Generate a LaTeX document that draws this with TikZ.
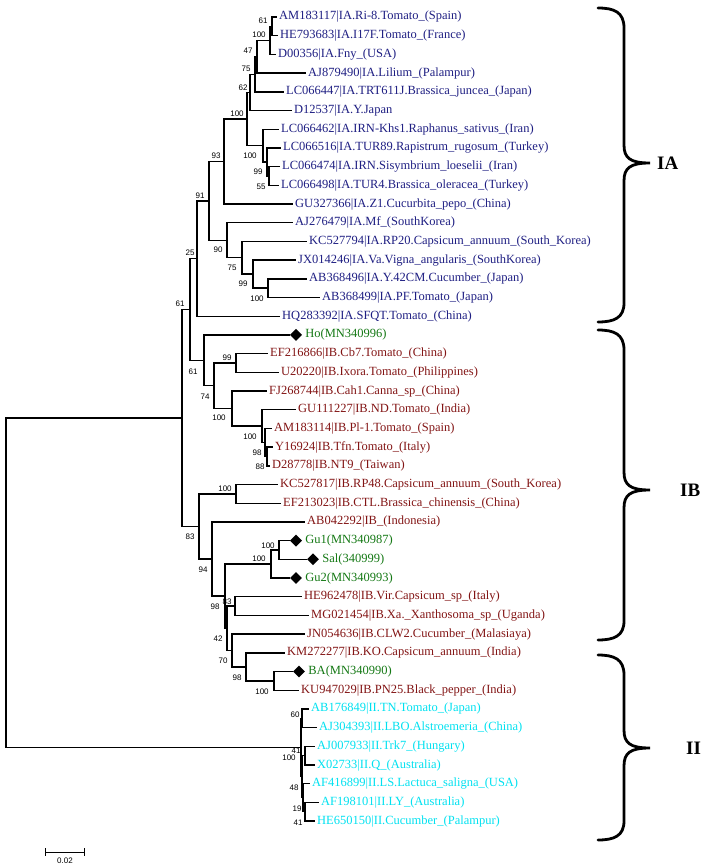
\documentclass[tikz,border=0pt]{standalone}
\usepackage{fontspec}
\setmainfont{Liberation Serif}
\setsansfont{Liberation Sans}
\usetikzlibrary{shapes.geometric,positioning}
\definecolor{iacol}{RGB}{30,30,130}
\definecolor{ibcol}{RGB}{130,20,20}
\definecolor{newcol}{RGB}{20,120,20}
\definecolor{iicol}{RGB}{0,225,240}
\tikzset{
  br/.style={line width=1.4pt},
  taxon/.style={anchor=west,inner sep=2pt,font=\fontsize{12.5}{13}\selectfont,text height=8.5pt,text depth=2.5pt},
  ia/.style={taxon,text=iacol},
  ib/.style={taxon,text=ibcol},
  ii/.style={taxon,text=iicol},
  new/.style={taxon,text=newcol},
  isolate/.style={diamond,fill=black,inner sep=0pt,minimum size=12pt},
  boot/.style={inner sep=0pt,font=\sffamily\fontsize{8}{8}\selectfont},
  clade/.style={line width=2.8pt,line cap=round},
  cladelab/.style={anchor=west,inner sep=0pt,font=\bfseries\fontsize{19}{19}\selectfont}
}
\begin{document}
\begin{tikzpicture}[x=1pt,y=-1pt]
\clip (0,0) rectangle (708,867);
% leaves, group IA
\node[ia] (AM183117) at (277,17.0) {AM183117|IA.Ri-8.Tomato\_(Spain)};
\node[ia] (HE793683) at (278,35.7) {HE793683|IA.I17F.Tomato\_(France)};
\node[ia] (D00356) at (276,54.4) {D00356|IA.Fny\_(USA)};
\node[ia] (AJ879490) at (306,73.1) {AJ879490|IA.Lilium\_(Palampur)};
\node[ia] (LC066447) at (284,91.8) {LC066447|IA.TRT611J.Brassica\_juncea\_(Japan)};
\node[ia] (D12537) at (292,110.5) {D12537|IA.Y.Japan};
\node[ia] (LC066462) at (279,129.2) {LC066462|IA.IRN-Khs1.Raphanus\_sativus\_(Iran)};
\node[ia] (LC066516) at (281,147.9) {LC066516|IA.TUR89.Rapistrum\_rugosum\_(Turkey)};
\node[ia] (LC066474) at (280,166.6) {LC066474|IA.IRN.Sisymbrium\_loeselii\_(Iran)};
\node[ia] (LC066498) at (279,185.3) {LC066498|IA.TUR4.Brassica\_oleracea\_(Turkey)};
\node[ia] (GU327366) at (293,204.0) {GU327366|IA.Z1.Cucurbita\_pepo\_(China)};
\node[ia] (AJ276479) at (293,222.7) {AJ276479|IA.Mf\_(SouthKorea)};
\node[ia] (KC527794) at (307,241.4) {KC527794|IA.RP20.Capsicum\_annuum\_(South\_Korea)};
\node[ia] (JX014246) at (296,260.1) {JX014246|IA.Va.Vigna\_angularis\_(SouthKorea)};
\node[ia] (AB368496) at (307,278.8) {AB368496|IA.Y.42CM.Cucumber\_(Japan)};
\node[ia] (AB368499) at (320,297.5) {AB368499|IA.PF.Tomato\_(Japan)};
\node[ia] (HQ283392) at (280,316.2) {HQ283392|IA.SFQT.Tomato\_(China)};
% leaves, group IB and the new isolates
\node[isolate] (dHo) at (296,334.9) {};
\node[new] (Ho) at ([xshift=1pt]dHo.east) {Ho(MN340996)};
\node[ib] (EF216866) at (268,353.6) {EF216866|IB.Cb7.Tomato\_(China)};
\node[ib] (U20220) at (279,372.3) {U20220|IB.Ixora.Tomato\_(Philippines)};
\node[ib] (FJ268744) at (267,391.0) {FJ268744|IB.Cah1.Canna\_sp\_(China)};
\node[ib] (GU111227) at (296,409.7) {GU111227|IB.ND.Tomato\_(India)};
\node[ib] (AM183114) at (272,428.4) {AM183114|IB.Pl-1.Tomato\_(Spain)};
\node[ib] (Y16924) at (273,447.1) {Y16924|IB.Tfn.Tomato\_(Italy)};
\node[ib] (D28778) at (270,465.8) {D28778|IB.NT9\_(Taiwan)};
\node[ib] (KC527817) at (278,484.5) {KC527817|IB.RP48.Capsicum\_annuum\_(South\_Korea)};
\node[ib] (EF213023) at (281,503.2) {EF213023|IB.CTL.Brassica\_chinensis\_(China)};
\node[ib] (AB042292) at (305,521.9) {AB042292|IB\_(Indonesia)};
\node[isolate] (dGu1) at (296,540.6) {};
\node[new] (Gu1) at ([xshift=1pt]dGu1.east) {Gu1(MN340987)};
\node[isolate] (dSal) at (313,559.3) {};
\node[new] (Sal) at ([xshift=1pt]dSal.east) {Sal(340999)};
\node[isolate] (dGu2) at (296,578.0) {};
\node[new] (Gu2) at ([xshift=1pt]dGu2.east) {Gu2(MN340993)};
\node[ib] (HE962478) at (302,596.7) {HE962478|IB.Vir.Capsicum\_sp\_(Italy)};
\node[ib] (MG021454) at (309,615.4) {MG021454|IB.Xa.\_Xanthosoma\_sp\_(Uganda)};
\node[ib] (JN054636) at (305,634.1) {JN054636|IB.CLW2.Cucumber\_(Malasiaya)};
\node[ib] (KM272277) at (285,652.8) {KM272277|IB.KO.Capsicum\_annuum\_(India)};
\node[isolate] (dBA) at (299,671.5) {};
\node[new] (BA) at ([xshift=1pt]dBA.east) {BA(MN340990)};
\node[ib] (KU947029) at (299,690.2) {KU947029|IB.PN25.Black\_pepper\_(India)};
% leaves, group II
\node[ii] (AB176849) at (309,708.9) {AB176849|II.TN.Tomato\_(Japan)};
\node[ii] (AJ304393) at (317,727.6) {AJ304393|II.LBO.Alstroemeria\_(China)};
\node[ii] (AJ007933) at (315,746.3) {AJ007933|II.Trk7\_(Hungary)};
\node[ii] (X02733) at (315,765.0) {X02733|II.Q\_(Australia)};
\node[ii] (AF416899) at (310,783.7) {AF416899|II.LS.Lactuca\_saligna\_(USA)};
\node[ii] (AF198101) at (319,802.4) {AF198101|II.LY\_(Australia)};
\node[ii] (HE650150) at (315,821.1) {HE650150|II.Cucumber\_(Palampur)};
% inner nodes
\coordinate (n61) at (272,26.35);
\coordinate (n100a) at (270,40.38);
\coordinate (n47) at (257,56.74);
\coordinate (n75) at (255,74.27);
\coordinate (n62) at (250,92.39);
\coordinate (n55) at (269,175.95);
\coordinate (n99) at (267,161.93);
\coordinate (n100b) at (263,145.56);
\coordinate (n100c) at (247,118.97);
\coordinate (n93) at (224,161.49);
\coordinate (n100d) at (268,288.15);
\coordinate (n99b) at (253,274.13);
\coordinate (n75b) at (242,257.76);
\coordinate (n90) at (227,240.23);
\coordinate (n91) at (209,200.86);
\coordinate (n25) at (197,258.53);
\coordinate (n99c) at (236,362.95);
\coordinate (n88) at (267,456.45);
\coordinate (n98) at (265,442.43);
\coordinate (n100f) at (262,426.06);
\coordinate (n100e) at (232,408.53);
\coordinate (n74) at (214,385.74);
\coordinate (nHo) at (204,360.32);
\coordinate (n61b) at (190,309.42);
\coordinate (n100g) at (236,493.85);
\coordinate (n100i) at (279,549.95);
\coordinate (n100h) at (271,563.98);
\coordinate (n83b) at (235,606.05);
\coordinate (n100j) at (274,680.85);
\coordinate (n98c) at (246,666.83);
\coordinate (n70) at (232,650.46);
\coordinate (n42) at (227,628.26);
\coordinate (n98b) at (225,596.12);
\coordinate (n94) at (212,559.01);
\coordinate (n83) at (199,526.43);
\coordinate (nIAB) at (182,417.93);
\coordinate (n60) at (302,718.25);
\coordinate (n100k) at (305,755.65);
\coordinate (n19) at (305,811.75);
\coordinate (n48) at (303,797.73);
\coordinate (n41) at (302,776.69);
\coordinate (nII) at (301,747.47);
\coordinate (root) at (6,582.7);
% branches
\begin{scope}[br]
  \draw (n61) |- (AM183117.west) (n61) |- (HE793683.west);
  \draw (n100a) |- (n61) (n100a) |- (D00356.west);
  \draw (n47) |- (n100a) (n47) |- (AJ879490.west);
  \draw (n75) |- (n47) (n75) |- (LC066447.west);
  \draw (n62) |- (n75) (n62) |- (D12537.west);
  \draw (n55) |- (LC066474.west) (n55) |- (LC066498.west);
  \draw (n99) |- (LC066516.west) (n99) |- (n55);
  \draw (n100b) |- (LC066462.west) (n100b) |- (n99);
  \draw (n100c) |- (n62) (n100c) |- (n100b);
  \draw (n93) |- (n100c) (n93) |- (GU327366.west);
  \draw (n100d) |- (AB368496.west) (n100d) |- (AB368499.west);
  \draw (n99b) |- (JX014246.west) (n99b) |- (n100d);
  \draw (n75b) |- (KC527794.west) (n75b) |- (n99b);
  \draw (n90) |- (AJ276479.west) (n90) |- (n75b);
  \draw (n91) |- (n93) (n91) |- (n90);
  \draw (n25) |- (n91) (n25) |- (HQ283392.west);
  \draw (n99c) |- (EF216866.west) (n99c) |- (U20220.west);
  \draw (n88) |- (Y16924.west) (n88) |- (D28778.west);
  \draw (n98) |- (AM183114.west) (n98) |- (n88);
  \draw (n100f) |- (GU111227.west) (n100f) |- (n98);
  \draw (n100e) |- (FJ268744.west) (n100e) |- (n100f);
  \draw (n74) |- (n99c) (n74) |- (n100e);
  \draw (nHo) |- (dHo.west) (nHo) |- (n74);
  \draw (n61b) |- (n25) (n61b) |- (nHo);
  \draw (n100g) |- (KC527817.west) (n100g) |- (EF213023.west);
  \draw (n100i) |- (dGu1.west) (n100i) |- (dSal.west);
  \draw (n100h) |- (n100i) (n100h) |- (dGu2.west);
  \draw (n83b) |- (HE962478.west) (n83b) |- (MG021454.west);
  \draw (n100j) |- (dBA.west) (n100j) |- (KU947029.west);
  \draw (n98c) |- (KM272277.west) (n98c) |- (n100j);
  \draw (n70) |- (JN054636.west) (n70) |- (n98c);
  \draw (n42) |- (n83b) (n42) |- (n70);
  \draw (n98b) |- (n100h) (n98b) |- (n42);
  \draw (n94) |- (AB042292.west) (n94) |- (n98b);
  \draw (n83) |- (n100g) (n83) |- (n94);
  \draw (nIAB) |- (n61b) (nIAB) |- (n83);
  \draw (n60) |- (AB176849.west) (n60) |- (AJ304393.west);
  \draw (n100k) |- (AJ007933.west) (n100k) |- (X02733.west);
  \draw (n19) |- (AF198101.west) (n19) |- (HE650150.west);
  \draw (n48) |- (AF416899.west) (n48) |- (n19);
  \draw (n41) |- (n100k) (n41) |- (n48);
  \draw (nII) |- (n60) (nII) |- (n41);
  \draw (root) |- (nIAB) (root) |- (nII);
\end{scope}
% bootstrap values
\node[boot] (bn61) at (263,21) {61};
\node[boot] (bn100a) at (259,35) {100};
\node[boot] (bn47) at (248,51) {47};
\node[boot] (bn75) at (246,69) {75};
\node[boot] (bn62) at (243,88) {62};
\node[boot] (bn100c) at (237,114) {100};
\node[boot] (bn100b) at (250,156) {100};
\node[boot] (bn99) at (258,172) {99};
\node[boot] (bn55) at (261,187) {55};
\node[boot] (bn93) at (216,156) {93};
\node[boot] (bn91) at (200,196) {91};
\node[boot] (bn25) at (190,253) {25};
\node[boot] (bn90) at (218,250) {90};
\node[boot] (bn75b) at (232,268) {75};
\node[boot] (bn99b) at (243,284) {99};
\node[boot] (bn100d) at (257,299) {100};
\node[boot] (bn61b) at (180,304) {61};
\node[boot] (bnHo) at (193,372) {61};
\node[boot] (bn99c) at (227,358) {99};
\node[boot] (bn74) at (205,397) {74};
\node[boot] (bn100e) at (219,418) {100};
\node[boot] (bn100f) at (250,437) {100};
\node[boot] (bn98) at (257,453) {98};
\node[boot] (bn88) at (260,467) {88};
\node[boot] (bn100g) at (225,489) {100};
\node[boot] (bn83) at (190,537) {83};
\node[boot] (bn100i) at (268,546) {100};
\node[boot] (bn100h) at (259,559) {100};
\node[boot] (bn94) at (203,570) {94};
\node[boot] (bn98b) at (215,607) {98};
\node[boot] (bn83b) at (227,602) {83};
\node[boot] (bn42) at (218,639) {42};
\node[boot] (bn70) at (223,661) {70};
\node[boot] (bn98c) at (237,678) {98};
\node[boot] (bn100j) at (262,692) {100};
\node[boot] (bn60) at (295,715) {60};
\node[boot] (bnII) at (296,751) {41};
\node[boot] (bn100k) at (289,758) {100};
\node[boot] (bn48) at (294,788) {48};
\node[boot] (bn19) at (297,809) {19};
\node[boot] (bn41) at (298,823) {41};
% scale bar
\coordinate (sbl) at (45,852);
\coordinate (sbr) at (85,852);
\draw[line width=0.8pt,|-|] (sbl) -- (sbr);
\node[boot] (sblab) at (65,861) {0.02};
% clade braces
\node[cladelab] (IA) at (657,163) {IA};
\node[cladelab] (IB) at (680,490) {IB};
\node[cladelab] (II) at (686,748) {II};
\draw[clade] (598,8) .. controls (614,8) and (624,12) .. (624,28) -- (624,145)
  .. controls (624,158) and (630,163) .. (650,163) .. controls (630,163) and (624,168) .. (624,181)
  -- (624,303) .. controls (624,318) and (614,322) .. (598,322);
\draw[clade] (598,330) .. controls (614,330) and (624,334) .. (624,350) -- (624,472)
  .. controls (624,485) and (630,490) .. (650,490) .. controls (630,490) and (624,495) .. (624,508)
  -- (624,621) .. controls (624,636) and (614,640) .. (598,640);
\draw[clade] (598,655) .. controls (614,655) and (624,659) .. (624,675) -- (624,730)
  .. controls (624,743) and (630,748) .. (650,748) .. controls (630,748) and (624,753) .. (624,766)
  -- (624,821) .. controls (624,836) and (614,840) .. (598,840);
\end{tikzpicture}
\end{document}
